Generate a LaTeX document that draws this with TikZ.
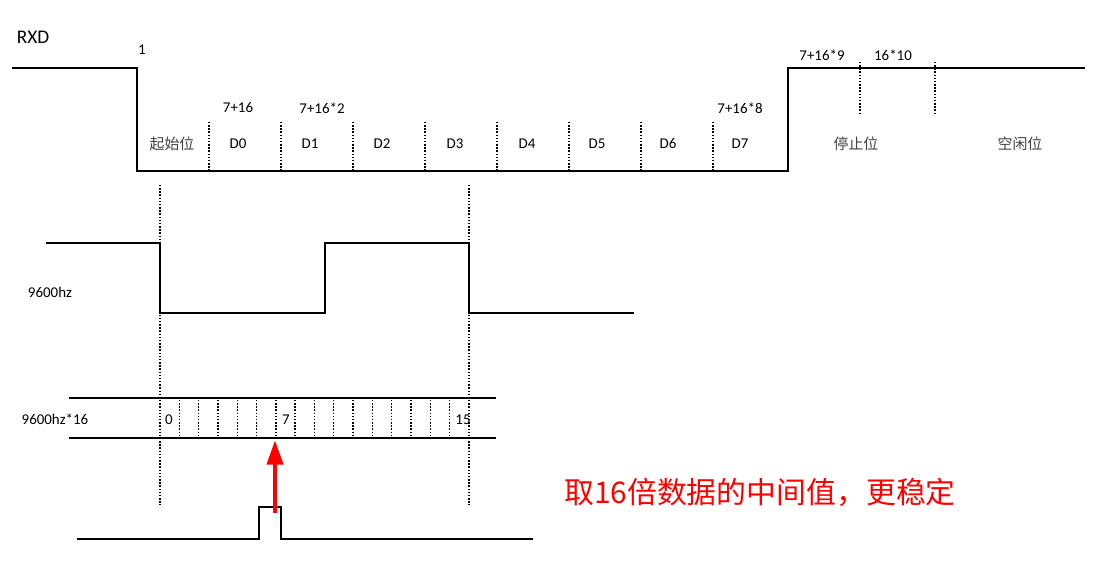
\documentclass[tikz,border=0pt]{standalone}
\usepackage{fontspec}
\setmainfont{Carlito}
\newfontfamily\cjk{Noto Sans CJK SC}
\usetikzlibrary{arrows.meta}
\tikzset{
  wave/.style={line width=1.4pt},
  sep/.style={densely dotted, line width=0.8pt},
  lbl/.style={font=\fontsize{8.5}{10}\selectfont, inner sep=1pt},
  cn/.style={font=\cjk\fontsize{8.5}{10}\selectfont, inner sep=1pt, text=black!75}
}
\begin{document}
\begin{tikzpicture}[x=0.02cm, y=-0.02cm]
  \useasboundingbox (0,0) rectangle (1114,568);
  % RXD line
  \draw[wave] (12,68) -- (137,68) -- (137,171) -- (788,171) -- (788,68) -- (1085,68);
  \foreach \x in {209,281,353,425,497,569,641,713}
    \draw[sep] (\x,122) -- (\x,171);
  \foreach \x in {860,935}
    \draw[sep] (\x,62) -- (\x,113);
  \node[lbl, font=\fontsize{11}{13}\selectfont] (rxd) at (33,37) {RXD};
  \node[lbl] (n1) at (142,50) {1};
  \node[lbl] (n2) at (238,108) {7+16};
  \node[lbl] (n3) at (322,108) {7+16*2};
  \node[lbl] (n4) at (740,108) {7+16*8};
  \node[lbl] (n5) at (822,55) {7+16*9};
  \node[lbl] (n6) at (893,55) {16*10};
  \node[cn] (start) at (172,144) {起始位};
  \foreach \x/\t in {238/D0,310/D1,382/D2,455/D3,527/D4,597/D5,668/D6,740/D7}
    \node[lbl] (\t) at (\x,144) {\t};
  \node[cn] (stop) at (856,144) {停止位};
  \node[cn] (idle) at (1020,144) {空闲位};
  % long guides
  \foreach \x in {160,469}
    \draw[sep] (\x,185) -- (\x,505);
  % 9600hz
  \draw[wave] (46,243) -- (160,243) -- (160,313) -- (325,313) -- (325,243) -- (469,243) -- (469,313) -- (634,313);
  \node[lbl] (baud) at (50,292) {9600hz};
  % 16x clock
  \draw[wave] (69,398) -- (496,398);
  \draw[wave] (69,438) -- (496,438);
  \foreach \i in {1,...,15}
    \draw[sep] ({160+\i*19.3},400) -- ({160+\i*19.3},436);
  \node[lbl] (clk) at (55,419) {9600hz*16};
  \node[lbl] (c0) at (169,420) {0};
  \node[lbl] (c7) at (286,420) {7};
  \node[lbl] (c15) at (463,420) {15};
  % sample pulse
  \draw[wave] (77,539) -- (259,539) -- (259,507) -- (281,507) -- (281,539) -- (533,539);
  \coordinate (tail) at (275,513);
  \coordinate (head) at (275,440);
  \draw[red, line width=2.5pt, -{Triangle[width=9pt,length=14pt]}] (tail) -- (head);
  \node[font=\cjk\fontsize{17}{20}\selectfont, text=red, anchor=west] (note) at (558,492) {取16倍数据的中间值，更稳定};
\end{tikzpicture}
\end{document}
